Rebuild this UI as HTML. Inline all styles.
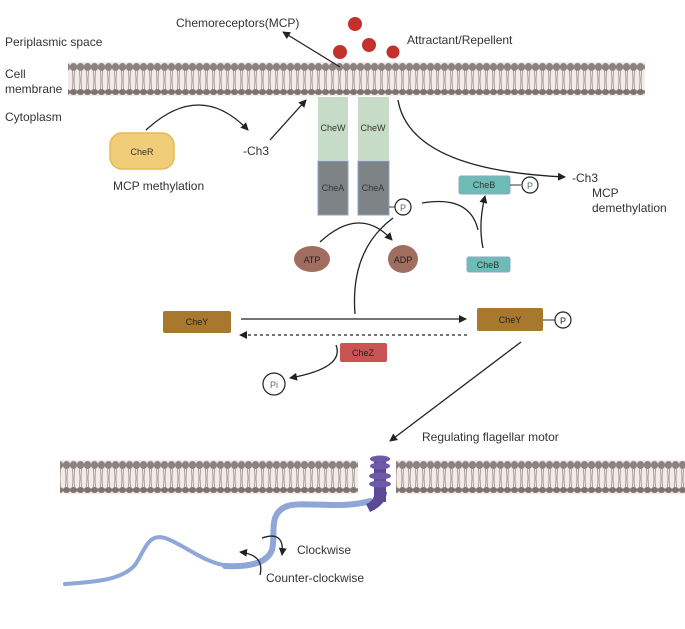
<!DOCTYPE html>
<html><head><meta charset="utf-8"><style>
body{margin:0;background:#fff;width:685px;height:629px;overflow:hidden}
svg{display:block}
text{font-family:"Liberation Sans",sans-serif}
</style></head><body>
<svg width="685" height="629" viewBox="0 0 685 629" xmlns="http://www.w3.org/2000/svg">
<defs>
<pattern id="lip" x="0" y="62" width="7" height="34" patternUnits="userSpaceOnUse">
<rect width="7" height="34" fill="#f3eaea"/>
<ellipse cx="3.5" cy="5" rx="3.6" ry="4" fill="#8c8280"/>
<ellipse cx="3.5" cy="30" rx="3.6" ry="3" fill="#7d7370"/>
<path d="M2.5 9 L3 18 L2.5 27 M4.5 9 L4 18 L4.5 27" stroke="#9a8f8c" stroke-width="0.8" fill="none"/>
</pattern>
<pattern id="lip2" x="0" y="460" width="7" height="34" patternUnits="userSpaceOnUse">
<rect width="7" height="34" fill="#f3eaea"/>
<ellipse cx="3.5" cy="5" rx="3.6" ry="4" fill="#8c8280"/>
<ellipse cx="3.5" cy="30" rx="3.6" ry="3" fill="#7d7370"/>
<path d="M2.5 9 L3 18 L2.5 27 M4.5 9 L4 18 L4.5 27" stroke="#9a8f8c" stroke-width="0.8" fill="none"/>
</pattern>
<marker id="ar" markerWidth="8" markerHeight="8" refX="7" refY="4" orient="auto" markerUnits="userSpaceOnUse"><path d="M0 0 L8 4 L0 8 z" fill="#222"/></marker>
</defs>
<rect x="68" y="62" width="577" height="34" fill="url(#lip)"/>
<g font-size="12" fill="#333">
<text x="5" y="46">Periplasmic space</text>
<text x="5" y="78">Cell</text>
<text x="5" y="93">membrane</text>
<text x="5" y="121">Cytoplasm</text>
<text x="176" y="27">Chemoreceptors(MCP)</text>
<text x="407" y="44">Attractant/Repellent</text>
<text x="113" y="190">MCP methylation</text>
<text x="243" y="155">-Ch3</text>
<text x="572" y="182">-Ch3</text>
<text x="592" y="197">MCP</text>
<text x="592" y="212">demethylation</text>
<text x="422" y="441">Regulating flagellar motor</text>
<text x="297" y="554">Clockwise</text>
<text x="266" y="582">Counter-clockwise</text>
</g>
<g fill="#c4302b">
<circle cx="355" cy="24" r="7"/><circle cx="369" cy="45" r="7"/><circle cx="340" cy="52" r="7"/><circle cx="393" cy="52" r="6.5"/>
</g>
<line x1="340" y1="67" x2="283" y2="32" stroke="#222" stroke-width="1.3" marker-end="url(#ar)"/>
<rect x="110" y="133" width="64" height="36" rx="12" fill="#f0cd78" stroke="#e8b94e" stroke-width="1.5"/>
<text x="142" y="155" font-size="9" text-anchor="middle" fill="#333">CheR</text>
<path d="M146 130 Q200 80 248 130" stroke="#222" stroke-width="1.3" fill="none" marker-end="url(#ar)"/>
<line x1="270" y1="140" x2="306" y2="100" stroke="#222" stroke-width="1.3" marker-end="url(#ar)"/>
<rect x="318" y="97" width="30" height="63" fill="#c6dcc6"/>
<rect x="358" y="97" width="31" height="63" fill="#c6dcc6"/>
<rect x="318" y="161" width="30" height="54" fill="#7e8486" stroke="#8fa3c8" stroke-width="1"/>
<rect x="358" y="161" width="31" height="54" fill="#7e8486" stroke="#8fa3c8" stroke-width="1"/>
<g font-size="9" fill="#333" text-anchor="middle">
<text x="333" y="131">CheW</text><text x="373" y="131">CheW</text>
<text x="333" y="191">CheA</text><text x="373" y="191">CheA</text>
</g>
<line x1="389" y1="207" x2="395" y2="207" stroke="#333"/>
<circle cx="403" cy="207" r="8" fill="#fff" stroke="#222" stroke-width="1.2"/>
<text x="403" y="211" font-size="9" text-anchor="middle" fill="#4a7a4a">P</text>
<path d="M398 100 Q410 170 565 177" stroke="#222" stroke-width="1.3" fill="none" marker-end="url(#ar)"/>
<rect x="459" y="176" width="51" height="18" rx="2" fill="#6dbdb6" stroke="#8fa3c8"/>
<text x="484" y="188" font-size="9" text-anchor="middle" fill="#333">CheB</text>
<line x1="510" y1="185" x2="521" y2="185" stroke="#333"/>
<circle cx="530" cy="185" r="8" fill="#fff" stroke="#222" stroke-width="1.2"/>
<text x="530" y="189" font-size="9" text-anchor="middle" fill="#4a7a4a">P</text>
<path d="M422 203 Q470 195 478 230" stroke="#222" stroke-width="1.3" fill="none"/>
<path d="M483 248 Q478 225 485 196" stroke="#222" stroke-width="1.3" fill="none" marker-end="url(#ar)"/>
<rect x="467" y="257" width="43" height="15" rx="2" fill="#6dbdb6" stroke="#8fa3c8"/>
<text x="488" y="268" font-size="9" text-anchor="middle" fill="#333">CheB</text>
<ellipse cx="312" cy="259" rx="18" ry="13" fill="#a06e5e"/>
<ellipse cx="403" cy="259" rx="15" ry="14" fill="#a06e5e"/>
<text x="312" y="263" font-size="9" text-anchor="middle" fill="#222">ATP</text>
<text x="403" y="263" font-size="9" text-anchor="middle" fill="#222">ADP</text>
<path d="M320 242 Q360 205 392 240" stroke="#222" stroke-width="1.3" fill="none" marker-end="url(#ar)"/>
<path d="M355 314 Q350 250 393 218" stroke="#222" stroke-width="1.3" fill="none"/>
<rect x="163" y="311" width="68" height="22" rx="2" fill="#a8782e"/>
<text x="197" y="325" font-size="9" text-anchor="middle" fill="#222">CheY</text>
<rect x="477" y="308" width="66" height="23" rx="2" fill="#a8782e"/>
<text x="510" y="323" font-size="9" text-anchor="middle" fill="#222">CheY</text>
<line x1="543" y1="320" x2="555" y2="320" stroke="#333"/>
<circle cx="563" cy="320" r="8" fill="#fff" stroke="#222" stroke-width="1.2"/>
<text x="563" y="324" font-size="9" text-anchor="middle" fill="#222">P</text>
<line x1="241" y1="319" x2="466" y2="319" stroke="#222" stroke-width="1.3" marker-end="url(#ar)"/>
<line x1="467" y1="335" x2="240" y2="335" stroke="#222" stroke-width="1.3" stroke-dasharray="3,3" marker-end="url(#ar)"/>
<rect x="340" y="343" width="47" height="19" rx="2" fill="#c85454"/>
<text x="363" y="356" font-size="9" text-anchor="middle" fill="#222">CheZ</text>
<path d="M336 345 Q345 368 290 378" stroke="#222" stroke-width="1.3" fill="none" marker-end="url(#ar)"/>
<circle cx="274" cy="384" r="11" fill="#fff" stroke="#222" stroke-width="1.2"/>
<text x="274" y="388" font-size="9" text-anchor="middle" fill="#4a7a4a">Pi</text>
<line x1="521" y1="342" x2="390" y2="441" stroke="#222" stroke-width="1.3" marker-end="url(#ar)"/>
<rect x="60" y="460" width="298" height="34" fill="url(#lip2)"/>
<rect x="396" y="460" width="289" height="34" fill="url(#lip2)"/>
<!-- flagellum -->
<path d="M370 501 C340 510 300 500 285 507 C268 515 276 535 272 550 C266 565 245 567 230 566 C205 564 185 545 165 538 C148 533 145 550 135 565 C122 580 95 582 65 584" stroke="#8ea6d8" stroke-width="4" fill="none" stroke-linecap="round"/>
<path d="M370 501 C340 510 300 500 285 507 C268 515 276 535 272 550 C266 565 245 567 225 566" stroke="#8ea6d8" stroke-width="6" fill="none" stroke-linecap="round"/>
<!-- motor -->
<rect x="374" y="458" width="12" height="44" fill="#5a4a96"/>
<ellipse cx="380" cy="459" rx="10" ry="3.5" fill="#6e5aa8"/>
<ellipse cx="380" cy="466" rx="10" ry="3.5" fill="#6e5aa8"/>
<ellipse cx="380" cy="476" rx="11" ry="3.5" fill="#6e5aa8"/>
<ellipse cx="380" cy="484" rx="11" ry="3.5" fill="#6e5aa8"/>
<path d="M374 490 L374 496 Q372 502 366 504 L370 512 Q386 505 387 492 z" fill="#5a4a96"/>
<path d="M262 538 Q285 530 282 555" stroke="#222" stroke-width="1.3" fill="none" marker-end="url(#ar)"/>
<path d="M260 575 Q265 555 240 552" stroke="#222" stroke-width="1.3" fill="none" marker-end="url(#ar)"/>
</svg>
</body></html>
